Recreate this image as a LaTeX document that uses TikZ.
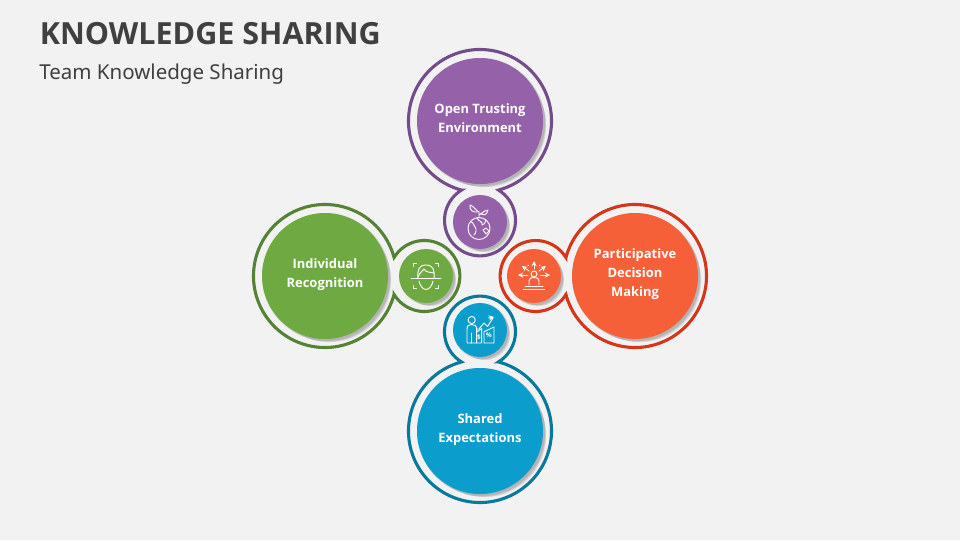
\documentclass[tikz,border=0pt]{standalone}
\usepackage{fontspec}
\setmainfont{Open Sans}
\newfontfamily\subfont{Noto Sans}
\usepackage{tikz}
\definecolor{pagebg}{HTML}{F2F2F2}
\definecolor{inktitle}{HTML}{404040}
\definecolor{purplefill}{HTML}{9561A8}
\definecolor{purplering}{HTML}{744C8C}
\definecolor{redfill}{HTML}{F66038}
\definecolor{redring}{HTML}{D5361A}
\definecolor{greenfill}{HTML}{6EAA41}
\definecolor{greenring}{HTML}{558235}
\definecolor{bluefill}{HTML}{0B9DCC}
\definecolor{bluering}{HTML}{07799C}
\tikzset{
  blob/.style={circle, inner sep=0pt, minimum size=#1*0.025cm},
  label/.style={text=white, align=center, font=\fontsize{9.2}{13.5}\selectfont\bfseries},
  icon/.style={draw=white, line width=0.65pt, line cap=round, line join=round},
}
% one petal: ring, shadows, big disc, small disc, text
\newcommand{\petal}[8]{%
  \begin{scope}[shift={(#1,#2)}]
    \draw[#5, line width=2.2pt, miter limit=10]
      (#3+15:71.5) arc (#3+15:#3+345:71.5) arc (#3-148.6:#3+148.6:35.5) -- cycle;
    \foreach \s in {0,1,2,3,4,5,6}
      \foreach \dd/\rr in {0/63,101/27}
        \fill[black, opacity=0.04] ([shift={(1+0.7*\s,1+0.7*\s)}]#3:\dd) circle (\rr+1-0.5*\s);
    \node[blob=126, fill=#4] (#6big) at (0,0) {};
    \node[blob=54, fill=#4] (#6small) at (#3:101) {};
    \node[label, inner sep=0pt] (#6text) at (0,#7) {#8};
  \end{scope}
}
\begin{document}
\begin{tikzpicture}[x=0.025cm,y=-0.025cm]
\fill[pagebg] (0,0) rectangle (960,540);
\useasboundingbox (0,0) rectangle (960,540);

\node[anchor=west, inner sep=0pt, text=inktitle, font=\fontsize{21.7}{22}\selectfont\bfseries] (title) at (39.5,34) {KNOWLEDGE SHARING};
\node[anchor=west, inner sep=0pt, text=inktitle, font=\subfont\fontsize{14.6}{15}\selectfont] (subtitle) at (39,74) {Team Knowledge Sharing};

\petal{480}{121}{90}{purplefill}{purplering}{top}{-3}{Open Trusting\\Environment}
\petal{325}{276}{0}{greenfill}{greenring}{left}{-1}{Individual\\Recognition}
\petal{635}{276}{180}{redfill}{redring}{right}{-2}{Participative\\Decision\\Making}
\petal{480}{431}{270}{bluefill}{bluering}{bottom}{-1}{Shared\\Expectations}

% globe with plant
\begin{scope}[shift={(topsmall.center)},icon]
  \draw (-1,6.5) circle (11);
  \draw (-1,-4.5) -- (-1,-10) (-1,-7) -- (2,-9);
  \draw (-1,-10) .. controls (-4,-11) and (-6,-16) .. (-10,-17) .. controls (-11,-12) and (-7,-9) .. (-1,-10);
  \draw (1,-8) .. controls (3,-11) and (5,-11) .. (8,-12) .. controls (7,-8) and (5,-6) .. (1,-8);
  \draw (-9,0) .. controls (-6,0) and (-7,4) .. (-5,5) .. controls (-3,7) and (-4,11) .. (-6,13);
  \draw (-3,-4) .. controls (-1,0) and (3,-1) .. (2,3) .. controls (6,2) and (5,-2) .. (6,-2);
  \draw (3,8) -- (6,6) -- (9,9) -- (6,12) -- cycle;
\end{scope}

% face in a frame
\begin{scope}[shift={(leftsmall.center)},icon]
  \foreach \sx/\sy in {1/1,1/-1,-1/1,-1/-1}
    \draw (\sx*9.5,\sy*12.7) -- (\sx*12.7,\sy*12.7) -- (\sx*12.7,\sy*9.5);
  \draw (-15,2.7) -- (15,2.7);
  \draw (-8,2.7) .. controls (-9,-6) and (-7,-11) .. (0,-11) .. controls (7,-11) and (9,-6) .. (8,2.7);
  \draw (-8,1) .. controls (-6,-4) and (-3,-5) .. (-2,-7) .. controls (0,-3) and (5,-4) .. (8,-3);
  \draw (-7,5) .. controls (-6,10) and (-3,13.5) .. (0,13.5) .. controls (3,13.5) and (6,10) .. (7,5);
\end{scope}

% person with radiating arrows
\begin{scope}[shift={(rightsmall.center)},icon,>=stealth]
  \draw (0,-2) circle (3);
  \draw (-5,9) -- (-5,5) .. controls (-5,2) and (-3,1.5) .. (0,1.5) .. controls (3,1.5) and (5,2) .. (5,5) -- (5,9);
  \draw (-9,10.5) -- (9,10.5) (-11,13) -- (11,13);
  \draw[->] (0,-7) -- (0,-15);
  \draw[->] (-6,-1) -- (-16,-1);
  \draw[->] (6,-1) -- (16,-1);
  \draw[->] (-5,-5) -- (-12,-10);
  \draw[->] (5,-5) -- (12,-10);
  \draw (-6,-11) -- (-5.5,-10.5) (6,-11) -- (5.5,-10.5);
\end{scope}

% person with chart
\begin{scope}[shift={(bottomsmall.center)},icon,>=stealth]
  \draw (-8.3,-10) circle (3.6);
  \draw (-13,13) -- (-13,-1) .. controls (-13,-4.5) and (-11,-5.5) .. (-8.3,-5.5) .. controls (-5.5,-5.5) and (-3.5,-4.5) .. (-3.3,-1) -- (-3.3,13) -- cycle;
  \draw (-9,13) -- (-9,3);
  \draw (-3.3,-1) -- (-1,-1) -- (4,-7) -- (7.5,-3.5) -- (13,-12);
  \draw[->] (8.5,-12) -- (14,-13);
  \draw (-3.3,13) -- (1.7,13) -- (1.7,-1.5) -- (-3.3,2);
  \draw (4,13) -- (14,13) -- (14,-3) -- (4,1.7) -- cycle;
  \node[draw=none, inner sep=0pt, text=white, font=\fontsize{4.5}{4.5}\selectfont\bfseries] (dollar) at (-1,7.5) {\$};
  \node[draw=none, inner sep=0pt, text=white, font=\fontsize{4.5}{4.5}\selectfont\bfseries] (percent) at (9,5.5) {\%};
\end{scope}

\end{tikzpicture}
\end{document}
